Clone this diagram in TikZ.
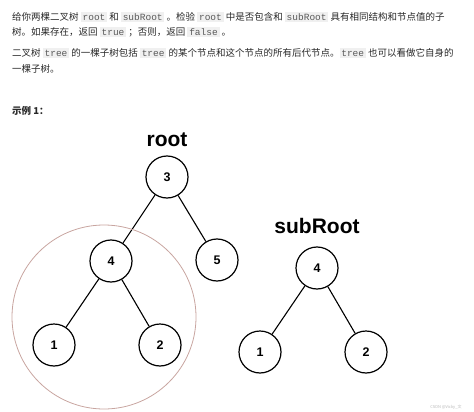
\documentclass[tikz,border=0pt]{standalone}
\usepackage{fontspec}
\usepackage{xcolor}
\usepackage{tikz}
\usetikzlibrary{positioning}
\setmainfont{Liberation Sans}
\setmonofont{Liberation Mono}
\newfontfamily\cjk{Noto Sans CJK SC}
\definecolor{textdark}{RGB}{40,40,40}
\definecolor{codebg}{RGB}{240,240,240}
\definecolor{codetext}{RGB}{90,90,90}
\definecolor{markbrown}{RGB}{200,165,160}
\definecolor{wmgray}{RGB}{185,185,185}
\newcommand{\code}[1]{{\setlength{\fboxsep}{1.8pt}\colorbox{codebg}{\ttfamily\textcolor{codetext}{#1}}}}

\begin{document}
\begin{tikzpicture}[
  x=1pt, y=-1pt,
  node distance=84pt and 56pt, on grid,
  treenode/.style={
    circle, draw=black, line width=1.2pt, minimum size=42pt, inner sep=0pt,
    font=\fontsize{12.5}{14}\selectfont\bfseries
  },
  edge/.style={line width=1.1pt, black},
  desc/.style={anchor=west, inner sep=0pt, text=textdark,
    font=\cjk\fontsize{9.5}{11}\selectfont},
  title/.style={font=\fontsize{21}{24}\selectfont\bfseries}
]
\useasboundingbox (0,0) rectangle (474,412);

% Problem text
\node[desc] (l1) at (12,17) {给你两棵二叉树 \code{root} 和 \code{subRoot} 。检验 \code{root} 中是否包含和 \code{subRoot} 具有相同结构和节点值的子};
\node[desc] (l2) at (12,32) {树。如果存在，返回 \code{true} ；否则，返回 \code{false} 。};
\node[desc] (l3) at (12,53) {二叉树 \code{tree} 的一棵子树包括 \code{tree} 的某个节点和这个节点的所有后代节点。\code{tree} 也可以看做它自身的};
\node[desc] (l4) at (12,69) {一棵子树。};
\node[desc, font=\cjk\fontsize{9.5}{11}\selectfont\bfseries] (ex) at (12,111) {示例 1：};

% root tree
\node[treenode] (r3) at (167,177) {3};
\node[treenode, below left=84pt and 56pt of r3] (r4) {4};
\node[treenode, below right=83pt and 50pt of r3] (r5) {5};
\node[treenode, below left=84pt and 57pt of r4] (r1) {1};
\node[treenode, below right=84pt and 49pt of r4] (r2) {2};
\node[title, above=37pt of r3] (rootlbl) {root};

\draw[edge] (r3) -- (r4);
\draw[edge] (r3) -- (r5);
\draw[edge] (r4) -- (r1);
\draw[edge] (r4) -- (r2);

% matching subtree
\node[circle, draw=markbrown, line width=0.8pt, minimum size=184pt] (match) at (104,317) {};

% subRoot tree
\node[treenode] (s4) at (317,268) {4};
\node[treenode, below left=84pt and 57pt of s4] (s1) {1};
\node[treenode, below right=84pt and 49pt of s4] (s2) {2};
\node[title, above=42pt of s4] (sublbl) {subRoot};

\draw[edge] (s4) -- (s1);
\draw[edge] (s4) -- (s2);

% watermark
\node[text=wmgray, font=\cjk\fontsize{4}{5}\selectfont] (wm) at (446,407) {CSDN @Vicky\_文};

\end{tikzpicture}
\end{document}
